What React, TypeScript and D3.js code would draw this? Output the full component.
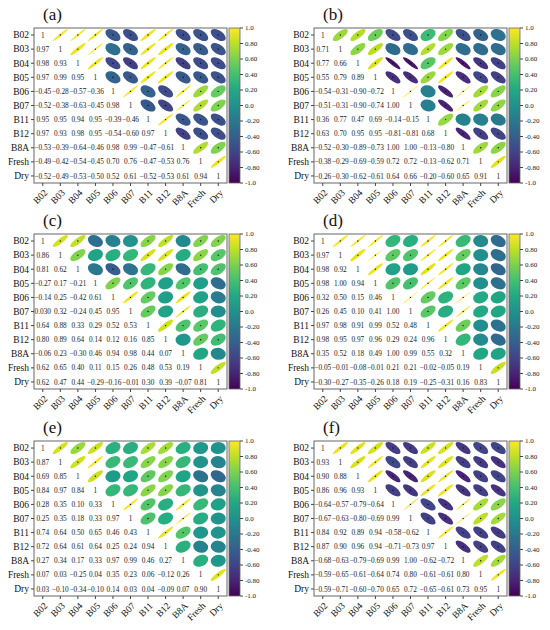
import * as d3 from 'd3';

const VARS = ['B02', 'B03', 'B04', 'B05', 'B06', 'B07', 'B11', 'B12', 'B8A', 'Fresh', 'Dry'];

// lower triangle, row i holds r(i, 0..i-1); diagonal is 1
const ROWS_A = [
  '',
  '0.97',
  '0.98 0.93',
  '0.97 0.99 0.95',
  '-0.45 -0.28 -0.57 -0.36',
  '-0.52 -0.38 -0.63 -0.45 0.98',
  '0.95 0.95 0.94 0.95 -0.39 -0.46',
  '0.97 0.93 0.98 0.95 -0.54 -0.60 0.97',
  '-0.53 -0.39 -0.64 -0.46 0.98 0.99 -0.47 -0.61',
  '-0.49 -0.42 -0.54 -0.45 0.70 0.76 -0.47 -0.53 0.76',
  '-0.52 -0.49 -0.53 -0.50 0.52 0.61 -0.52 -0.53 0.61 0.94',
];
const ROWS_B = [
  '',
  '0.71',
  '0.77 0.66',
  '0.55 0.79 0.89',
  '-0.54 -0.31 -0.90 -0.72',
  '-0.51 -0.31 -0.90 -0.74 1.00',
  '0.36 0.77 0.47 0.69 -0.14 -0.15',
  '0.63 0.70 0.95 0.95 -0.81 -0.81 0.68',
  '-0.52 -0.30 -0.89 -0.73 1.00 1.00 -0.13 -0.80',
  '-0.38 -0.29 -0.69 -0.59 0.72 0.72 -0.13 -0.62 0.71',
  '-0.26 -0.30 -0.62 -0.61 0.64 0.66 -0.20 -0.60 0.65 0.91',
];
const ROWS_C = [
  '',
  '0.86',
  '0.81 0.62',
  '-0.27 0.17 -0.21',
  '-0.14 0.25 -0.42 0.61',
  '0.030 0.32 -0.24 0.45 0.95',
  '0.64 0.88 0.33 0.29 0.52 0.53',
  '0.80 0.89 0.64 0.14 0.12 0.16 0.85',
  '-0.06 0.23 -0.30 0.46 0.94 0.98 0.44 0.07',
  '0.62 0.65 0.40 0.11 0.15 0.26 0.48 0.53 0.19',
  '0.62 0.47 0.44 -0.29 -0.16 -0.01 0.30 0.39 -0.07 0.81',
];
const ROWS_D = [
  '',
  '0.97',
  '0.98 0.92',
  '0.98 1.00 0.94',
  '0.32 0.50 0.15 0.46',
  '0.26 0.45 0.10 0.41 1.00',
  '0.97 0.98 0.91 0.99 0.52 0.48',
  '0.98 0.95 0.97 0.96 0.29 0.24 0.96',
  '0.35 0.52 0.18 0.49 1.00 0.99 0.55 0.32',
  '-0.05 -0.01 -0.08 -0.01 0.21 0.21 -0.02 -0.05 0.19',
  '-0.30 -0.27 -0.35 -0.26 0.18 0.19 -0.25 -0.31 0.16 0.83',
];
const ROWS_E = [
  '',
  '0.87',
  '0.69 0.85',
  '0.84 0.97 0.84',
  '0.28 0.35 0.10 0.33',
  '0.25 0.35 0.18 0.33 0.97',
  '0.74 0.64 0.50 0.65 0.46 0.43',
  '0.72 0.64 0.61 0.64 0.25 0.24 0.94',
  '0.27 0.34 0.17 0.33 0.97 0.99 0.46 0.27',
  '0.07 0.03 -0.25 0.04 0.35 0.23 0.06 -0.12 0.26',
  '0.03 -0.10 -0.34 -0.10 0.14 0.03 0.04 -0.09 0.07 0.90',
];
const ROWS_F = [
  '',
  '0.93',
  '0.90 0.88',
  '0.86 0.96 0.93',
  '-0.64 -0.57 -0.79 -0.64',
  '-0.67 -0.63 -0.80 -0.69 0.99',
  '0.84 0.92 0.89 0.94 -0.58 -0.62',
  '0.87 0.90 0.96 0.94 -0.71 -0.73 0.97',
  '-0.68 -0.63 -0.79 -0.69 0.99 1.00 -0.62 -0.72',
  '-0.59 -0.65 -0.61 -0.64 0.74 0.80 -0.61 -0.61 0.80',
  '-0.59 -0.71 -0.60 -0.70 0.65 0.72 -0.65 -0.61 0.73 0.95',
];

const PANEL_TAGS = ['(a)', '(b)', '(c)', '(d)', '(e)', '(f)'];
const PANEL_ROWS = [ROWS_A, ROWS_B, ROWS_C, ROWS_D, ROWS_E, ROWS_F];

const CBAR_TICKS = ['1.0', '0.80', '0.60', '0.40', '0.20', '0.0', '-0.20', '-0.40', '-0.60', '-0.80', '-1.0'];

const SIG_R = 0.36; // |r| above which a centre dot is drawn

const FONT = '"Liberation Serif", "Times New Roman", serif';
const W = 550;
const H = 630;
const COL_X = [34, 314];
const ROW_Y = [28, 234, 441];
const PW = 193;
const PH = 155;

const color = d3.scaleSequential(d3.interpolateViridis).domain([-1, 1]);

function parseRows(rows: string[]) {
  return rows.map(r => r.split(' ').filter(Boolean));
}

function Panel({ tag, rows, x0, y0 }: { tag: string; rows: string[]; x0: number; y0: number }) {
  const cells = parseRows(rows);
  const x = d3.scaleBand().domain(VARS).range([x0, x0 + PW]);
  const y = d3.scaleBand().domain(VARS).range([y0, y0 + PH]);
  const cw = x.bandwidth();
  const ch = y.bandwidth();
  const cy = d3.scaleLinear().domain([-1, 1]).range([y0 + PH, y0]);
  const cbX = x0 + PW + 2;
  const cbW = 11;
  const k = 0.86;

  const ellipses: JSX.Element[] = [];
  const labels: JSX.Element[] = [];
  VARS.forEach((ri, i) => {
    VARS.forEach((cj, j) => {
      const cx = x(cj)! + cw / 2;
      const cyy = y(ri)! + ch / 2;
      if (j <= i) {
        const s = j < i ? cells[i][j].replace('-', '\u2212') : '1';
        labels.push(
          <text key={`t${i}-${j}`} x={cx} y={cyy} dy="0.35em" textAnchor="middle" fontSize={7.3} fill="#222">
            {s}
          </text>
        );
      } else {
        const r = parseFloat(cells[j][i]);
        const a = Math.abs(r);
        ellipses.push(
          <g key={`e${i}-${j}`}>
            <ellipse
              transform={`translate(${cx},${cyy}) scale(${cw},${ch}) rotate(${r >= 0 ? -45 : 45})`}
              rx={(k * Math.sqrt(1 + a)) / 2}
              ry={(k * Math.sqrt(Math.max(1 - a, 0.004))) / 2}
              fill={color(r)}
            />
            {a >= SIG_R && <circle cx={cx} cy={cyy} r={0.7} fill="#111" />}
          </g>
        );
      }
    });
  });

  const gid = `cb-${tag.replace(/[()]/g, '')}`;
  return (
    <g fontFamily={FONT}>
      <defs>
        <linearGradient id={gid} x1="0" y1="1" x2="0" y2="0">
          {d3.range(0, 1.0001, 0.1).map(t => (
            <stop key={t} offset={t} stopColor={d3.interpolateViridis(t)} />
          ))}
        </linearGradient>
      </defs>
      <text x={x0 + 9} y={y0 - 8} fontSize={17} fill="#111">{tag}</text>
      {ellipses}
      {labels}
      <rect x={x0} y={y0} width={PW} height={PH} fill="none" stroke="#666" strokeWidth={1} />
      {VARS.map(v => (
        <g key={`yl-${v}`}>
          <line x1={x0 - 3} x2={x0} y1={y(v)! + ch / 2} y2={y(v)! + ch / 2} stroke="#444" />
          <text x={x0 - 5} y={y(v)! + ch / 2} dy="0.35em" textAnchor="end" fontSize={9.5} fill="#111">{v}</text>
        </g>
      ))}
      {VARS.map(v => {
        const tx = x(v)! + cw / 2;
        return (
          <g key={`xl-${v}`}>
            <line x1={tx} x2={tx} y1={y0 + PH} y2={y0 + PH + 3} stroke="#444" />
            <text
              transform={`translate(${tx + 3},${y0 + PH + 8}) rotate(-45)`}
              textAnchor="end"
              dy="0.35em"
              fontSize={9.5}
              fill="#111"
            >
              {v}
            </text>
          </g>
        );
      })}
      <rect x={cbX} y={y0} width={cbW} height={PH} fill={`url(#${gid})`} stroke="#666" strokeWidth={0.8} />
      {CBAR_TICKS.map(t => {
        const ty = cy(parseFloat(t));
        return (
          <g key={`cb-${t}`}>
            <line x1={cbX + cbW} x2={cbX + cbW + 3} y1={ty} y2={ty} stroke="#444" />
            <text x={cbX + cbW + 5} y={ty} dy="0.35em" fontSize={7} fill="#222">{t}</text>
          </g>
        );
      })}
    </g>
  );
}

export default function App() {
  return (
    <svg width={W} height={H} style={{ position: 'absolute', left: 0, top: 0, background: '#fff' }}>
      <rect width={W} height={H} fill="#fff" />
      {PANEL_TAGS.map((tag, i) => (
        <Panel key={tag} tag={tag} rows={PANEL_ROWS[i]} x0={COL_X[i % 2]} y0={ROW_Y[Math.floor(i / 2)]} />
      ))}
    </svg>
  );
}
